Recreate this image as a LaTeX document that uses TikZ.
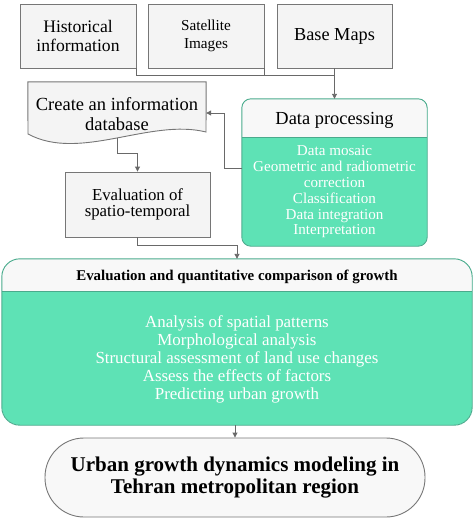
\documentclass[tikz,border=0pt]{standalone}
\usepackage{fontspec}
\setmainfont{Liberation Serif}
\usepackage{tikz}
\usetikzlibrary{arrows.meta, positioning}
\definecolor{boxgray}{RGB}{244,244,244}
\definecolor{edgegray}{RGB}{118,118,118}
\definecolor{mint}{RGB}{94,226,181}
\definecolor{mintedge}{RGB}{74,170,140}
\definecolor{headwhite}{RGB}{248,248,248}
\definecolor{linkgray}{RGB}{105,105,105}
\newcommand{\fs}[2]{\fontsize{#1}{#2}\selectfont}

\begin{document}
\begin{tikzpicture}[x=1pt, y=-1pt,
    box/.style={rectangle, draw=edgegray, line width=0.9pt, fill=boxgray, align=center, inner sep=0pt},
    lbl/.style={align=center, inner sep=0pt},
    link/.style={draw=linkgray, line width=0.9pt},
    arr/.style={link, -{Triangle[length=5pt, width=5pt]}}
]
\useasboundingbox (0,0) rectangle (474,522);

% sources
\node[box, minimum width=116pt, minimum height=64pt, font=\fs{17.6}{18.5}] (hist) at (78,36) {Historical\\information};
\node[box, minimum width=116pt, minimum height=64pt, font=\fs{15.2}{17.5}] (sat) at (206,36) {Satellite\\Images};
\node[box, minimum width=115pt, minimum height=64pt, font=\fs{18.3}{20}] (base) at (334.5,36) {Base Maps};

% data processing
\node[rectangle, fill=mint, rounded corners=9pt, minimum width=185pt, minimum height=147pt] (dp) at (334.5,172.5) {};
\begin{scope}
  \clip (242,99) rectangle (427,137);
  \fill[headwhite, rounded corners=9pt] (242,99) rectangle (427,160);
\end{scope}
\draw[mintedge, line width=0.9pt] (242,137) -- (427,137);
\draw[mintedge, line width=0.9pt, rounded corners=9pt] (dp.north west) rectangle (dp.south east);
\node[lbl, font=\fs{18.4}{20}] (dphead) at (334.5,120) {Data processing};
\node[lbl, text=white, font=\fs{15.1}{15.8}] (dplist) at (334.5,192) {Data mosaic\\Geometric and radiometric\\correction\\Classification\\Data integration\\Interpretation};

% database
\node[rectangle, minimum width=178pt, minimum height=56pt, inner sep=0pt] (db) at (117,110) {};
\draw[edgegray, fill=boxgray, line width=0.9pt] (db.north west) -- (db.north east) -- (206,132)
  .. controls (150,118) and (80,162) .. (28,134) -- cycle;
\node[lbl, font=\fs{18.5}{20}] (dbtext) at (117,114) {Create an information\\database};

\node[box, minimum width=145pt, minimum height=65pt, font=\fs{16.8}{16.5}] (ev) at (137.5,204.5) {Evaluation of\\spatio-temporal};

% comparison of growth
\node[rectangle, fill=mint, rounded corners=18pt, minimum width=470pt, minimum height=166pt] (big) at (237,342) {};
\begin{scope}
  \clip (2,259) rectangle (472,291);
  \fill[headwhite, rounded corners=18pt] (2,259) rectangle (472,320);
\end{scope}
\draw[mintedge, line width=0.9pt] (2,291) -- (472,291);
\draw[mintedge, line width=0.9pt, rounded corners=18pt] (big.north west) rectangle (big.south east);
\node[lbl, font=\bfseries\fs{14.9}{16}] (bighead) at (237,277) {Evaluation and quantitative comparison of growth};
\node[lbl, text=white, font=\fs{16.9}{18}] (biglist) at (237,359) {Analysis of spatial patterns\\Morphological analysis\\Structural assessment of land use changes\\Assess the effects of factors\\Predicting urban growth};

\node[rectangle, draw=edgegray, line width=0.9pt, fill=headwhite, rounded corners=39pt, minimum width=380pt, minimum height=79pt, align=center, inner sep=0pt, font=\bfseries\fs{21}{22.5}] (urb) at (235,477.5) {\raisebox{-3pt}{Urban growth dynamics modeling in}\\\raisebox{-3pt}{Tehran metropolitan region}};

% connectors
\draw[link] (hist.south east) -- ++(0,7) -| (base.south);
\draw[link] (sat.south east) -- ++(0,7);
\draw[arr] (base.south) -- (dp.north);
\draw[arr] ([yshift=4pt]dp.west) -- ++(-17,0) |- ([yshift=-3pt]db.east);
\draw[arr] (db.south) -- ++(0,15) -| (ev.north);
\draw[arr] (ev.south) -- ++(0,8) -| (big.north);
\draw[arr] (big.south -| urb.north) -- (urb.north);
\end{tikzpicture}
\end{document}
